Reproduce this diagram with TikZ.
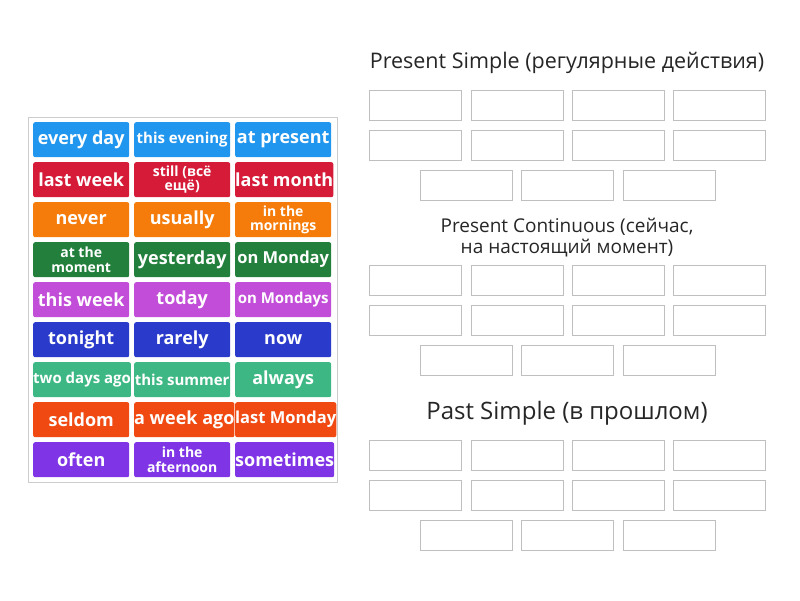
\documentclass[tikz,border=0pt]{standalone}
\usepackage{fontspec}
\setmainfont{Open Sans}
\begin{document}
\begin{tikzpicture}[x=1pt,y=-1pt,
  tile/.style={fill=#1,rounded corners=2pt,minimum width=96pt,minimum height=35pt,inner sep=0pt,text=white,font=\bfseries\fontsize{18}{19}\selectfont,align=center,anchor=north west},
  two/.style={font=\bfseries\fontsize{14}{14.5}\selectfont},
  mid/.style={font=\bfseries\fontsize{15}{16}\selectfont},
  mid2/.style={font=\bfseries\fontsize{16.5}{17}\selectfont},
  big/.style={},
  slot/.style={draw=black!25,line width=0.8pt,minimum width=92pt,minimum height=30pt,inner sep=0pt,anchor=north west},
  ttl/.style={text=black!85,align=center}]
\definecolor{cA}{HTML}{2196EE}
\definecolor{cB}{HTML}{D51B38}
\definecolor{cC}{HTML}{F57C0A}
\definecolor{cD}{HTML}{23803C}
\definecolor{cE}{HTML}{C24DD8}
\definecolor{cF}{HTML}{2A3BCB}
\definecolor{cG}{HTML}{3DB884}
\definecolor{cH}{HTML}{F04A12}
\definecolor{cI}{HTML}{7F35E6}
\useasboundingbox (0,0) rectangle (800,600);
\node[draw=black!20,minimum width=309pt,minimum height=365pt,anchor=north west,inner sep=0pt] (panel) at (28,117) {};
\foreach \r/\c/\a/\sa/\b/\sb/\cc/\sc in {0/cA/every day/big/this evening/mid/at present/big,
  1/cB/last week/big/{still (всё\\ещё)}/two/last month/big,
  2/cC/never/big/usually/big/{in the\\mornings}/two,
  3/cD/{at the\\moment}/two/yesterday/big/on Monday/mid2,
  4/cE/this week/big/today/big/on Mondays/mid,
  5/cF/tonight/big/rarely/big/now/big,
  6/cG/two days ago/mid/this summer/mid/always/big,
  7/cH/seldom/big/a week ago/big/last Monday/mid2,
  8/cI/often/big/{in the\\afternoon}/two/sometimes/big}{
  \node[tile=\c,\sa] (t\r a) at (33,122+40*\r) {\a};
  \node[tile=\c,\sb] (t\r b) at (134,122+40*\r) {\b};
  \node[tile=\c,\sc] (t\r c) at (235,122+40*\r) {\cc};
}
\node[ttl,font=\fontsize{21.5}{24}\selectfont] (h1) at (567,63) {Present Simple (регулярные действия)};
\node[ttl,font=\fontsize{19}{21}\selectfont] (h2) at (567,238) {Present Continuous (сейчас,\\на настоящий момент)};
\node[ttl,font=\fontsize{24}{27}\selectfont] (h3) at (567,413) {Past Simple (в прошлом)};
\foreach \s/\y in {1/90,2/265,3/440}{
  \foreach \i/\x in {1/369,2/471,3/572,4/673}{
    \node[slot] (s\s a\i) at (\x,\y) {};
    \node[slot] (s\s b\i) at (\x,\y+40) {};
  }
  \foreach \i/\x in {1/420,2/521,3/623}{
    \node[slot] (s\s c\i) at (\x,\y+80) {};
  }
}
\end{tikzpicture}
\end{document}
